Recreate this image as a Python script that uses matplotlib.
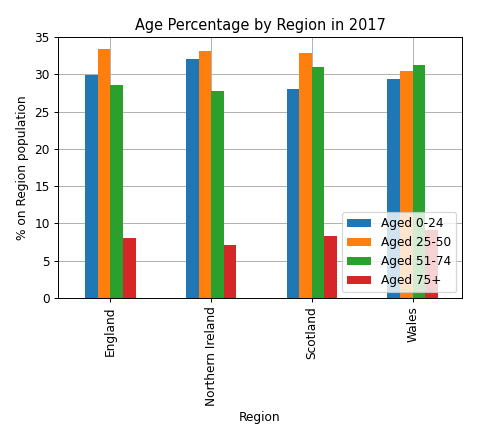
import numpy as np
import matplotlib
matplotlib.use('Agg')
import matplotlib.pyplot as plt

regions = ['England', 'Northern Ireland', 'Scotland', 'Wales']
series_names = ['Aged 0-24', 'Aged 25-50', 'Aged 51-74', 'Aged 75+']
aged_0_24 = [29.9, 32.1, 28.0, 29.3]
aged_25_50 = [33.4, 33.1, 32.9, 30.5]
aged_51_74 = [28.6, 27.8, 31.0, 31.2]
aged_75_plus = [8.1, 7.1, 8.3, 9.1]

colors = ['#1f77b4', '#ff7f0e', '#2ca02c', '#d62728']

# reference looks like a 72 dpi notebook figure scaled up ~1.2x
dpi = 87
fig = plt.figure(figsize=(485 / dpi, 429 / dpi), dpi=dpi)
ax = fig.add_axes([0.1196, 0.3054, 0.8330, 0.6084])

x = np.arange(len(regions))
width = 0.125
for i, (name, vals) in enumerate(zip(series_names,
                                     [aged_0_24, aged_25_50, aged_51_74, aged_75_plus])):
    ax.bar(x + (i - 1.5) * width, vals, width, color=colors[i], label=name)

ax.set_xticks(x)
ax.set_xticklabels(regions, rotation=90)
ax.set_xlim(-0.52, 3.49)
ax.set_ylim(0, 35)
ax.set_axisbelow(True)
ax.grid(True)
ax.set_title('Age Percentage by Region in 2017')
ax.set_xlabel('Region')
ax.set_ylabel('% on Region population')
ax.legend(loc='lower right')

fig.savefig('out.png', dpi=dpi)
